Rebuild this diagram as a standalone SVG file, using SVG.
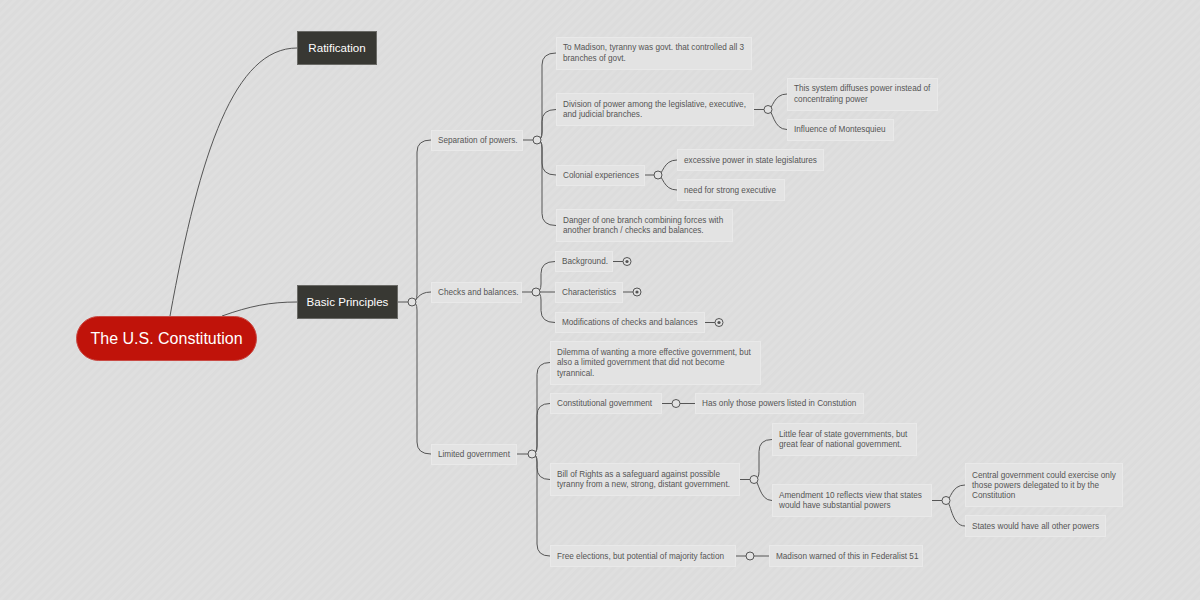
<svg xmlns="http://www.w3.org/2000/svg" width="1200" height="600" viewBox="0 0 1200 600">
<defs>
<pattern id="bg" width="6" height="6" patternUnits="userSpaceOnUse" patternTransform="rotate(45)">
<rect width="6" height="6" fill="#dfdfdf"/>
<rect width="3" height="6" fill="#dcdcdc"/>
</pattern>
<style>
.c{fill:none;stroke:#555;stroke-width:1}
.k{fill:#e2e2e2;stroke:#555;stroke-width:1}
.b{fill:#e3e3e3;stroke:#e9e9e9;stroke-width:1}
.t{font-family:"Liberation Sans",Arial,sans-serif;font-size:8.2px;fill:#555}
.m{fill:#383833;stroke:#6a6a66;stroke-width:1}
.mt{font-family:"Liberation Sans",Arial,sans-serif;font-size:11.6px;fill:#fff;text-anchor:middle}
</style>
</defs>
<rect width="1200" height="600" fill="url(#bg)"/>
<g id="connectors">
<path class="c" d="M170,316 C200,150 235,48 297,48"/>
<path class="c" d="M222,316 C250,306 270,302 297,302"/>
<path class="c" d="M398,302 L408,302"/>
<path class="c" d="M412,302 Q417,302 417,294 L417,152 Q417,140 431,140"/>
<path class="c" d="M412,302 C417,302 417,292 431,292"/>
<path class="c" d="M412,302 Q417,302 417,310 L417,442 Q417,454 431,454"/>
<path class="c" d="M523,140 L533,140"/>
<path class="c" d="M537,140 Q542,140 542,132 L542,65 Q542,53 556,53"/>
<path class="c" d="M537,140 Q542,140 542,132 L542,121.5 Q542,109.5 556,109.5"/>
<path class="c" d="M537,140 Q542,140 542,148 L542,163 Q542,175 556,175"/>
<path class="c" d="M537,140 Q542,140 542,148 L542,213.5 Q542,225.5 556,225.5"/>
<path class="c" d="M753,109.5 L764,109.5"/>
<path class="c" d="M768,109.5 C773,109.5 773,94 787,94"/>
<path class="c" d="M768,109.5 C773,109.5 773,129.5 787,129.5"/>
<path class="c" d="M644,175 L654,175"/>
<path class="c" d="M658,175 C663,175 663,160 677,160"/>
<path class="c" d="M658,175 C663,175 663,190 677,190"/>
<path class="c" d="M522,292 L532,292"/>
<path class="c" d="M536,292 Q541,292 541,284 L541,273.5 Q541,261.5 555,261.5"/>
<path class="c" d="M540,292 L555,292"/>
<path class="c" d="M536,292 Q541,292 541,300 L541,310.5 Q541,322.5 555,322.5"/>
<path class="c" d="M613,261.5 L623,261.5"/>
<path class="c" d="M623,292 L633,292"/>
<path class="c" d="M705,322.5 L715,322.5"/>
<path class="c" d="M517,454 L528,454"/>
<path class="c" d="M532,454 Q537,454 537,446 L537,374.5 Q537,362.5 550,362.5"/>
<path class="c" d="M532,454 Q537,454 537,446 L537,415.5 Q537,403.5 550,403.5"/>
<path class="c" d="M532,454 Q537,454 537,462 L537,467.5 Q537,479.5 550,479.5"/>
<path class="c" d="M532,454 Q537,454 537,462 L537,544 Q537,556 550,556"/>
<path class="c" d="M662,403.5 L695,403.5"/>
<path class="c" d="M740,479.5 L750,479.5"/>
<path class="c" d="M754,479.5 Q759,479.5 759,471.5 L759,451.5 Q759,439.5 772,439.5"/>
<path class="c" d="M754,479.5 C759,479.5 759,500.5 772,500.5"/>
<path class="c" d="M932,500.5 L942,500.5"/>
<path class="c" d="M946,500.5 C951,500.5 951,485 965,485"/>
<path class="c" d="M946,500.5 C951,500.5 951,526 965,526"/>
<path class="c" d="M736,556 L769,556"/>
<circle class="k" cx="412" cy="302" r="4"/>
<circle class="k" cx="537" cy="140" r="4"/>
<circle class="k" cx="768" cy="109.5" r="4"/>
<circle class="k" cx="658" cy="175" r="4"/>
<circle class="k" cx="536" cy="292" r="4"/>
<circle class="k" cx="532" cy="454" r="4"/>
<circle class="k" cx="676" cy="403.5" r="4"/>
<circle class="k" cx="754" cy="479.5" r="4"/>
<circle class="k" cx="946" cy="500.5" r="4"/>
<circle class="k" cx="750" cy="556" r="4"/>
<circle class="k" cx="627" cy="261.5" r="4"/><circle cx="627" cy="261.5" r="1.6" fill="#555"/>
<circle class="k" cx="637" cy="292" r="4"/><circle cx="637" cy="292" r="1.6" fill="#555"/>
<circle class="k" cx="719" cy="322.5" r="4"/><circle cx="719" cy="322.5" r="1.6" fill="#555"/>
</g>
<g id="root">
<rect x="76.5" y="316.5" width="180" height="44" rx="22" fill="#c0130a" stroke="#c94a44" stroke-width="1"/>
<text x="166.5" y="344" font-family="Liberation Sans,Arial,sans-serif" font-size="16" fill="#fff" text-anchor="middle">The U.S. Constitution</text>
</g>
<g id="ratification">
<rect class="m" x="297.5" y="31.5" width="79" height="33"/>
<text class="mt" x="337" y="52">Ratification</text>
</g>
<g id="basic-principles">
<rect class="m" x="297.5" y="285.5" width="100" height="33"/>
<text class="mt" x="347.5" y="306">Basic Principles</text>
</g>
<g id="separation">
<rect class="b" x="431.5" y="130.5" width="91" height="20"/>
<text class="t" x="438" y="143">Separation of powers.</text>
</g>
<g id="madison">
<rect class="b" x="556.5" y="37.5" width="195" height="32"/>
<text class="t" x="563" y="50">To Madison, tyranny was govt. that controlled all 3</text>
<text class="t" x="563" y="61">branches of govt.</text>
</g>
<g id="division">
<rect class="b" x="556.5" y="93.5" width="197" height="32"/>
<text class="t" x="563" y="107">Division of power among the legislative, executive,</text>
<text class="t" x="563" y="117">and judicial branches.</text>
</g>
<g id="diffuses">
<rect class="b" x="787.5" y="78.5" width="150" height="32"/>
<text class="t" x="794" y="91">This system diffuses power instead of</text>
<text class="t" x="794" y="102">concentrating power</text>
</g>
<g id="montesquieu">
<rect class="b" x="787.5" y="119.5" width="106" height="21"/>
<text class="t" x="794" y="132">Influence of Montesquieu</text>
</g>
<g id="colonial">
<rect class="b" x="556.5" y="165.5" width="88" height="20"/>
<text class="t" x="563" y="178">Colonial experiences</text>
</g>
<g id="excessive">
<rect class="b" x="677.5" y="149.5" width="146" height="21"/>
<text class="t" x="684" y="163">excessive power in state legislatures</text>
</g>
<g id="executive">
<rect class="b" x="677.5" y="179.5" width="107" height="21"/>
<text class="t" x="684" y="193">need for strong executive</text>
</g>
<g id="danger">
<rect class="b" x="556.5" y="209.5" width="176" height="32"/>
<text class="t" x="563" y="223">Danger of one branch combining forces with</text>
<text class="t" x="563" y="233">another branch / checks and balances.</text>
</g>
<g id="checks">
<rect class="b" x="431.5" y="282.5" width="90" height="20"/>
<text class="t" x="438" y="295">Checks and balances.</text>
</g>
<g id="background">
<rect class="b" x="555.5" y="251.5" width="57" height="20"/>
<text class="t" x="562" y="264">Background.</text>
</g>
<g id="characteristics">
<rect class="b" x="555.5" y="282.5" width="67" height="20"/>
<text class="t" x="562" y="295">Characteristics</text>
</g>
<g id="modifications">
<rect class="b" x="555.5" y="312.5" width="149" height="20"/>
<text class="t" x="562" y="325">Modifications of checks and balances</text>
</g>
<g id="limited">
<rect class="b" x="431.5" y="444.5" width="85" height="20"/>
<text class="t" x="438" y="457">Limited government</text>
</g>
<g id="dilemma">
<rect class="b" x="550.5" y="341.5" width="210" height="43"/>
<text class="t" x="557" y="355">Dilemma of wanting a more effective government, but</text>
<text class="t" x="557" y="365">also a limited government that did not become</text>
<text class="t" x="557" y="376">tyrannical.</text>
</g>
<g id="constitutional">
<rect class="b" x="550.5" y="393.5" width="111" height="20"/>
<text class="t" x="557" y="406">Constitutional government</text>
</g>
<g id="has-only">
<rect class="b" x="695.5" y="393.5" width="168" height="20"/>
<text class="t" x="702" y="406">Has only those powers listed in Constution</text>
</g>
<g id="bill">
<rect class="b" x="550.5" y="463.5" width="189" height="32"/>
<text class="t" x="557" y="477">Bill of Rights as a safeguard against possible</text>
<text class="t" x="557" y="487">tyranny from a new, strong, distant government.</text>
</g>
<g id="little-fear">
<rect class="b" x="772.5" y="423.5" width="144" height="32"/>
<text class="t" x="779" y="437">Little fear of state governments, but</text>
<text class="t" x="779" y="447">great fear of national government.</text>
</g>
<g id="amendment">
<rect class="b" x="772.5" y="484.5" width="159" height="32"/>
<text class="t" x="779" y="498">Amendment 10 reflects view that states</text>
<text class="t" x="779" y="508">would have substantial powers</text>
</g>
<g id="central">
<rect class="b" x="965.5" y="463.5" width="157" height="43"/>
<text class="t" x="972" y="478">Central government could exercise only</text>
<text class="t" x="972" y="488">those powers delegated to it by the</text>
<text class="t" x="972" y="498">Constitution</text>
</g>
<g id="states">
<rect class="b" x="965.5" y="515.5" width="140" height="21"/>
<text class="t" x="972" y="529">States would have all other powers</text>
</g>
<g id="free-elections">
<rect class="b" x="550.5" y="545.5" width="185" height="21"/>
<text class="t" x="557" y="559">Free elections, but potential of majority faction</text>
</g>
<g id="federalist">
<rect class="b" x="769.5" y="545.5" width="153" height="21"/>
<text class="t" x="776" y="559">Madison warned of this in Federalist 51</text>
</g>
</svg>
